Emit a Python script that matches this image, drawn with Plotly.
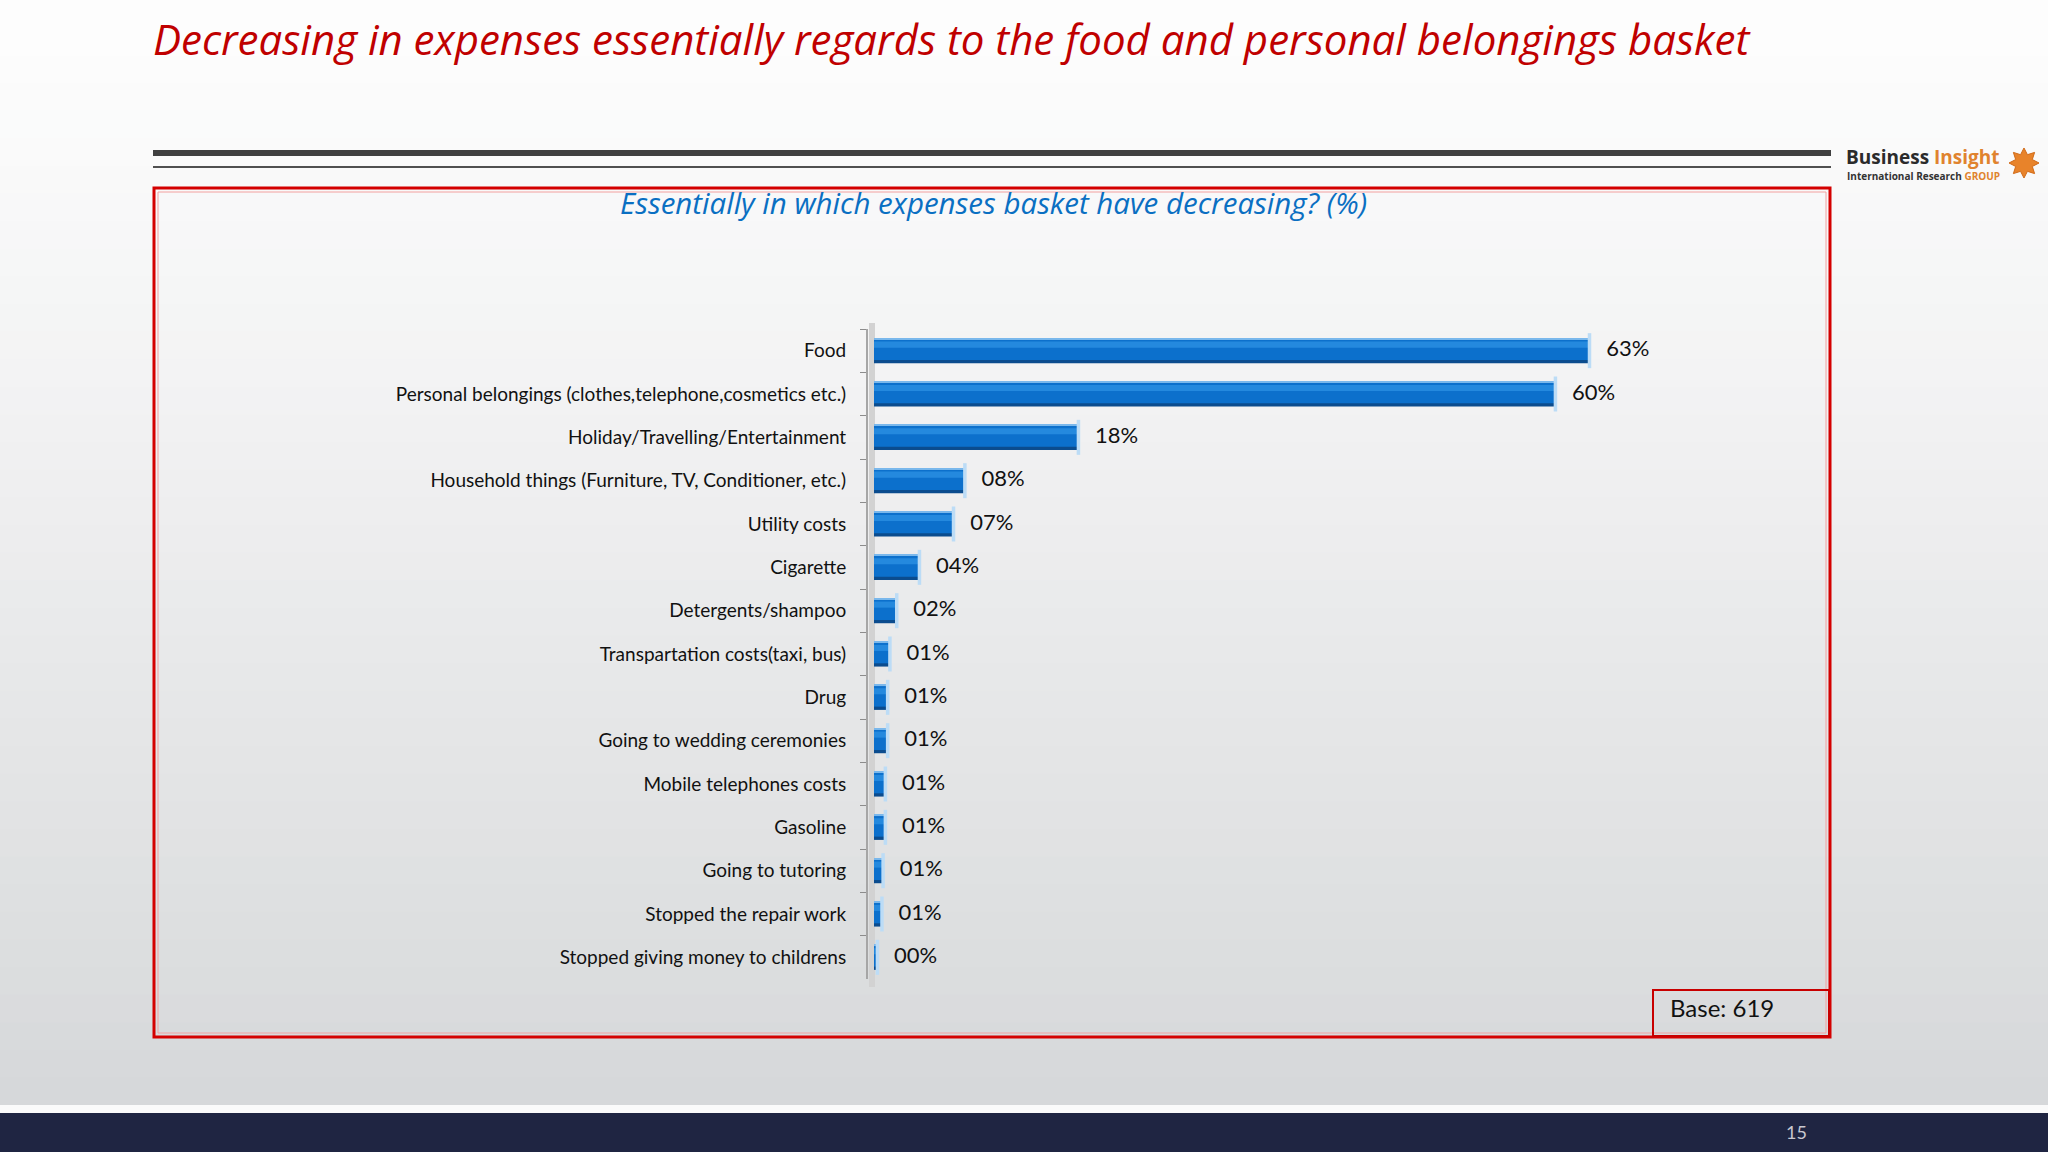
import math
import plotly.graph_objects as go

# ---------------- data ----------------
categories = [
    "Food",
    "Personal belongings (clothes,telephone,cosmetics etc.)",
    "Holiday/Travelling/Entertainment",
    "Household things (Furniture, TV, Conditioner, etc.)",
    "Utility costs",
    "Cigarette",
    "Detergents/shampoo",
    "Transpartation costs(taxi, bus)",
    "Drug",
    "Going to wedding ceremonies",
    "Mobile telephones costs",
    "Gasoline",
    "Going to tutoring",
    "Stopped the repair work",
    "Stopped giving money to childrens",
]
values = [63, 60, 18, 8, 7, 4, 2, 1.4, 1.2, 1.2, 1.0, 1.0, 0.8, 0.7, 0.3]
value_labels = ["63%", "60%", "18%", "08%", "07%", "04%", "02%", "01%", "01%",
                "01%", "01%", "01%", "01%", "01%", "00%"]

title_text = "Decreasing in expenses essentially regards to the food and personal belongings basket"
subtitle_text = "Essentially in which expenses basket have decreasing? (%)"
base_text = "Base: 619"
page_number = "15"

W, H = 2048, 1152


def px(x):
    return x / W


def py(y):
    return 1 - y / H


FONT = "Lato"
HEAD_FONT = "Open Sans"

fig = go.Figure()

# layered bars to imitate the cylindrical shading
bar_layers = [
    dict(color="#0b4c8e", offset=-0.29, width=0.58),
    dict(color="#0c70cc", offset=-0.275, width=0.49),
    dict(color="#2489de", offset=-0.21, width=0.14),
    dict(color="#7ab8ec", offset=-0.29, width=0.03),
]
for layer in bar_layers:
    fig.add_trace(go.Bar(
        x=values, y=categories, orientation="h",
        marker=dict(color=layer["color"], line=dict(width=0)),
        offset=layer["offset"], width=layer["width"],
        hoverinfo="skip", showlegend=False,
    ))

# bar end caps + value labels
fig.add_trace(go.Scatter(
    x=values, y=categories, mode="markers+text",
    marker=dict(symbol="line-ns-open", size=25, color="#bcdcf6",
                line=dict(color="#bcdcf6", width=3.5)),
    text=value_labels, textposition="middle right",
    textfont=dict(family=FONT, size=22, color="#111111"),
    cliponaxis=False, hoverinfo="skip", showlegend=False,
))

x_left, x_right = 868, 1669
y_top, y_bottom = 329, 979

fig.update_layout(
    width=W, height=H,
    margin=dict(l=0, r=0, t=0, b=0),
    paper_bgcolor="white", plot_bgcolor="rgba(0,0,0,0)",
    barmode="overlay",
    xaxis=dict(domain=[px(x_left), px(x_right)], range=[-0.53, 70],
               visible=False, fixedrange=True),
    yaxis=dict(domain=[py(y_bottom), py(y_top)],
               range=[len(categories) - 0.5, -0.5],
               showline=True, linecolor="#a6a6a6", linewidth=2,
               ticks="outside", ticklen=6, tickcolor="#8c8c8c", tickwidth=1,
               tickson="boundaries", showgrid=False, zeroline=False,
               ticklabelstandoff=16,
               tickfont=dict(family=FONT, size=19, color="#111111")),
)

shapes = []
# background gradient (white to light grey)
n_bands = 40
top_c = (253, 253, 253)
bot_c = (214, 216, 218)
band_top, band_bot = 0, 1105
for i in range(n_bands):
    t = (i / (n_bands - 1)) ** 1.2
    c = tuple(int(round(top_c[k] + (bot_c[k] - top_c[k]) * t)) for k in range(3))
    y0 = band_top + (band_bot - band_top) * i / n_bands
    y1 = band_top + (band_bot - band_top) * (i + 1) / n_bands + 1
    shapes.append(dict(type="rect", xref="paper", yref="paper",
                       x0=0, x1=1, y0=py(y1), y1=py(y0),
                       fillcolor="rgb(%d,%d,%d)" % c, line=dict(width=0),
                       layer="below"))
# white stripe and navy footer
shapes.append(dict(type="rect", xref="paper", yref="paper", x0=0, x1=1,
                   y0=py(1113), y1=py(1105), fillcolor="#fafafa",
                   line=dict(width=0), layer="below"))
shapes.append(dict(type="rect", xref="paper", yref="paper", x0=0, x1=1,
                   y0=0, y1=py(1113), fillcolor="#1f2542",
                   line=dict(width=0), layer="below"))
# header rules
shapes.append(dict(type="rect", xref="paper", yref="paper",
                   x0=px(153), x1=px(1831), y0=py(156), y1=py(150),
                   fillcolor="#404040", line=dict(width=0), layer="below"))
shapes.append(dict(type="rect", xref="paper", yref="paper",
                   x0=px(153), x1=px(1831), y0=py(168), y1=py(166),
                   fillcolor="#505050", line=dict(width=0), layer="below"))
# red frame
shapes.append(dict(type="rect", xref="paper", yref="paper",
                   x0=px(154), x1=px(1830), y0=py(1037), y1=py(188),
                   line=dict(color="#d40000", width=3), layer="below"))
shapes.append(dict(type="rect", xref="paper", yref="paper",
                   x0=px(158), x1=px(1826), y0=py(1033), y1=py(192),
                   line=dict(color="#f2a0a0", width=1), layer="below"))
# base box
shapes.append(dict(type="rect", xref="paper", yref="paper",
                   x0=px(1653), x1=px(1829), y0=py(1036), y1=py(990),
                   line=dict(color="#c80000", width=2), layer="below"))
# axis wall
shapes.append(dict(type="rect", xref="paper", yref="paper",
                   x0=px(869), x1=px(875), y0=py(y_bottom + 8), y1=py(y_top - 6),
                   fillcolor="#d2d2d2", line=dict(width=0), layer="below"))
# logo star
cx, cy, r1, r2 = 2024, 163, 15, 9
pts = []
for k in range(16):
    ang = -math.pi / 2 + k * math.pi / 8
    r = r1 if k % 2 == 0 else r2
    pts.append((cx + r * math.cos(ang), cy + r * math.sin(ang)))
path = "M " + " L ".join("%.5f,%.5f" % (px(x), py(y)) for x, y in pts) + " Z"
shapes.append(dict(type="path", xref="paper", yref="paper", path=path,
                   fillcolor="#e8832a", line=dict(color="#d06a18", width=1)))
fig.update_layout(shapes=shapes)

annotations = [
    dict(text="<i>" + title_text + "</i>", x=px(151), y=py(38),
         xanchor="left", yanchor="middle",
         font=dict(family=HEAD_FONT, size=42, color="#c00000")),
    dict(text="<i>" + subtitle_text + "</i>", x=px(993), y=py(202),
         xanchor="center", yanchor="middle",
         font=dict(family=HEAD_FONT, size=29.5, color="#0a6fc2")),
    dict(text=base_text, x=px(1668), y=py(1007), xanchor="left", yanchor="middle",
         font=dict(family=FONT, size=24, color="#111111")),
    dict(text=page_number, x=px(1796), y=py(1132), xanchor="center", yanchor="middle",
         font=dict(family=FONT, size=18, color="#c8c8d0")),
    dict(text="<b>Business <span style='color:#e0832e'>Insight</span></b>",
         x=px(1844), y=py(157), xanchor="left", yanchor="middle",
         font=dict(family=HEAD_FONT, size=19, color="#2b2b2b")),
    dict(text="<b>International Research <span style='color:#e0832e'>GROUP</span></b>",
         x=px(1845), y=py(176), xanchor="left", yanchor="middle",
         font=dict(family=HEAD_FONT, size=10, color="#333333")),
]
for a in annotations:
    a.update(xref="paper", yref="paper", showarrow=False)
fig.update_layout(annotations=annotations)

fig.write_html("out.html")
